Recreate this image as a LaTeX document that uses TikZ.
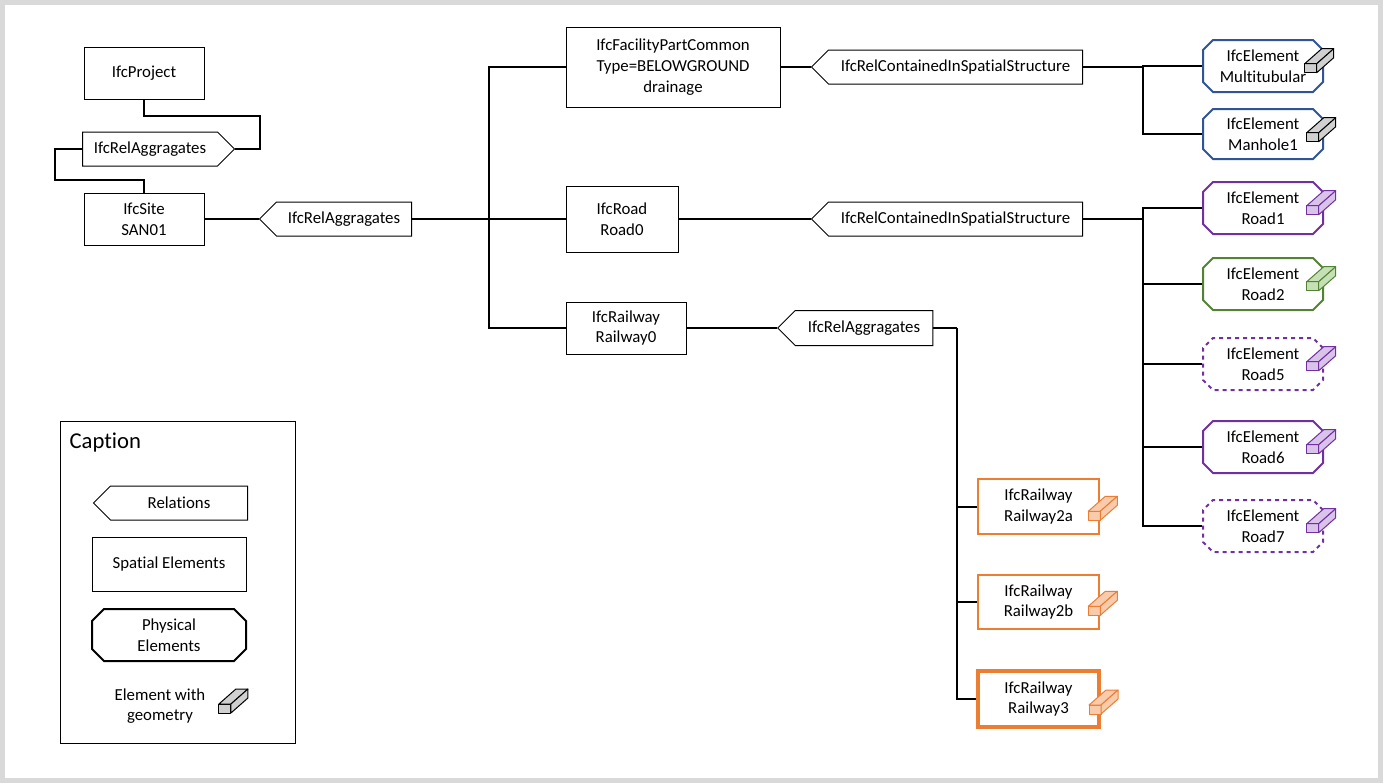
\documentclass[tikz,border=0pt]{standalone}
\usepackage{fontspec}
\setmainfont{Carlito}[RawFeature=-liga]
\usetikzlibrary{shapes.symbols,shapes.misc,calc}
\definecolor{eblue}{HTML}{2F5597}
\definecolor{epurple}{HTML}{7030A0}
\definecolor{egreen}{HTML}{548235}
\definecolor{eorange}{HTML}{ED7D31}
\definecolor{lpurple}{HTML}{D9C3E9}
\definecolor{lgreen}{HTML}{C5E0B4}
\definecolor{lorange}{HTML}{F8CBAD}
\definecolor{lgrey}{HTML}{D0D0D0}
\newcommand{\geoicon}[3]{\begin{scope}[shift={#1},line width=0.75pt,line join=round]
\filldraw[fill=#2,draw=#3] (0,0)--(12,0)--(12,-9)--(0,-9)--cycle;
\filldraw[fill=#2,draw=#3] (0,-9)--(12,-9)--(29,-24)--(17,-24)--cycle;
\filldraw[fill=#2,draw=#3] (12,0)--(29,-15)--(29,-24)--(12,-9)--cycle;
\end{scope}}
\begin{document}
\begin{tikzpicture}[x=0.75pt,y=-0.75pt,
  every node/.style={font=\fontsize{12.6}{15.5}\selectfont,align=center,inner sep=1pt},
  box/.style={draw,line width=0.75pt,fill=white,rectangle},
  relw/.style={draw,line width=0.75pt,fill=white,signal,signal to=west,signal pointer angle=90,minimum height={34*0.75pt}},
  rele/.style={relw,signal to=east},
  phys/.style={draw,fill=white,chamfered rectangle,chamfered rectangle xsep={5*0.75pt},chamfered rectangle ysep={5*0.75pt},line width=1.5pt,minimum width={120*0.75pt},minimum height={52*0.75pt}},
  conn/.style={line width=1.5pt}]
\fill[gray!30] (0,0) rectangle (1383,783);
\fill[white] (5,5) rectangle (1378,778);
% spatial / project
\node[box,minimum width={120*0.75pt},minimum height={52*0.75pt}] (proj) at (144,73) {IfcProject};
\node[rele,minimum width={152*0.75pt}] (rel1) at (150,149) {IfcRelAggragates};
\node[box,minimum width={120*0.75pt},minimum height={52*0.75pt}] (site) at (144,219) {IfcSite\\SAN01};
\node[relw,minimum width={152*0.75pt}] (rel2) at (344,219) {IfcRelAggragates};
\node[box,minimum width={214*0.75pt},minimum height={80*0.75pt}] (fac) at (673,67) {IfcFacilityPartCommon\\Type=BELOWGROUND\\drainage};
\node[relw,minimum width={271*0.75pt}] (relc1) at (955.5,67) {IfcRelContainedInSpatialStructure};
\node[box,minimum width={112*0.75pt},minimum height={66*0.75pt}] (road0) at (622,219) {IfcRoad\\Road0};
\node[relw,minimum width={271*0.75pt}] (relc2) at (955.5,219) {IfcRelContainedInSpatialStructure};
\node[box,minimum width={120*0.75pt},minimum height={52*0.75pt}] (rail0) at (626,328) {IfcRailway\\Railway0};
\node[relw,minimum width={155*0.75pt},minimum height={35*0.75pt}] (rel3) at (864,328) {IfcRelAggragates};
% physical
\node[phys,draw=eblue] (multi) at (1263,66) {IfcElement\\Multitubular};
\node[phys,draw=eblue,minimum height={50*0.75pt}] (manh) at (1263,134) {IfcElement\\Manhole1};
\node[phys,draw=epurple] (road1) at (1263,208) {IfcElement\\Road1};
\node[phys,draw=egreen] (road2) at (1263,284) {IfcElement\\Road2};
\node[phys,draw=epurple,dashed] (road5) at (1263,364) {IfcElement\\Road5};
\node[phys,draw=epurple] (road6) at (1263,447) {IfcElement\\Road6};
\node[phys,draw=epurple,dashed] (road7) at (1263,526) {IfcElement\\Road7};
\node[box,draw=eorange,line width=1.9pt,minimum width={121*0.75pt},minimum height={55*0.75pt}] (r2a) at (1038.5,506.5) {IfcRailway\\Railway2a};
\node[box,draw=eorange,line width=1.9pt,minimum width={121*0.75pt},minimum height={54*0.75pt}] (r2b) at (1038.5,602) {IfcRailway\\Railway2b};
\node[box,draw=eorange,line width=3pt,minimum width={121*0.75pt},minimum height={56*0.75pt}] (r3) at (1038.5,699) {IfcRailway\\Railway3};
% icons
\geoicon{($(multi.south east)+(-14,-15)$)}{lgrey}{black}
\geoicon{($(manh.south east)+(-12,-13)$)}{lgrey}{black}
\foreach \n in {road1,road5,road6,road7}{\geoicon{($(\n.south east)+(-12,-15)$)}{lpurple}{epurple}}
\geoicon{($(road2.south east)+(-12,-15)$)}{lgreen}{egreen}
\foreach \n in {r2a,r2b,r3}{\geoicon{($(\n.south east)+(-12,-15)$)}{lorange}{eorange}}
% connectors
\draw[conn] (proj.south) -- ++(0,16) -| ($(rel1.east)+(25,0)$) -- (rel1.east);
\draw[conn] (rel1.west) -- ++(-27,0) |- ($(site.north)+(0,-13)$) -- (site.north);
\draw[conn] (site.east) -- (rel2.west);
\draw[conn] (rel2.east) -- ++(77,0) coordinate (t1);
\draw[conn] (fac.west) -| (t1) |- (rail0.west);
\draw[conn] (t1) -- (road0.west);
\draw[conn] (fac.east) -- (relc1.west);
\draw[conn] (relc1.east) -- ++(60,0) coordinate (t2);
\draw[conn] (multi.west) -| (t2) |- (manh.west);
\draw[conn] (road0.east) -- (relc2.west);
\draw[conn] (relc2.east) -- ++(60,0) coordinate (t3);
\draw[conn] (road1.west) -| (t3) |- (road7.west);
\foreach \n in {road2,road5,road6}{\draw[conn] (t3 |- \n.west) -- (\n.west);}
\draw[conn] (rail0.east) -- (rel3.west);
\draw[conn] (rel3.east) -- ++(24,0) coordinate (t4);
\draw[conn] (t4) |- (r3.west);
\foreach \n in {r2a,r2b}{\draw[conn] (t4 |- \n.west) -- (\n.west);}
% caption
\node[box,minimum width={235*0.75pt},minimum height={322*0.75pt}] (cap) at (177.5,582) {};
\node[anchor=west,font=\fontsize{17}{20}\selectfont] (captxt) at (68,443) {Caption};
\node[relw,minimum width={154*0.75pt}] (lrel) at (179,503) {Relations};
\node[box,minimum width={154*0.75pt},minimum height={54*0.75pt}] (lsp) at (169,564) {Spatial Elements};
\node[phys,draw=black,minimum width={154*0.75pt},chamfered rectangle xsep={6*0.75pt},chamfered rectangle ysep={6*0.75pt}] (lph) at (169,635) {Physical\\Elements};
\node (lgeo) at (160,706) {Element with\\geometry};
\geoicon{($(lgeo.east)+(12,7)$)}{lgrey}{black}
\end{tikzpicture}
\end{document}
